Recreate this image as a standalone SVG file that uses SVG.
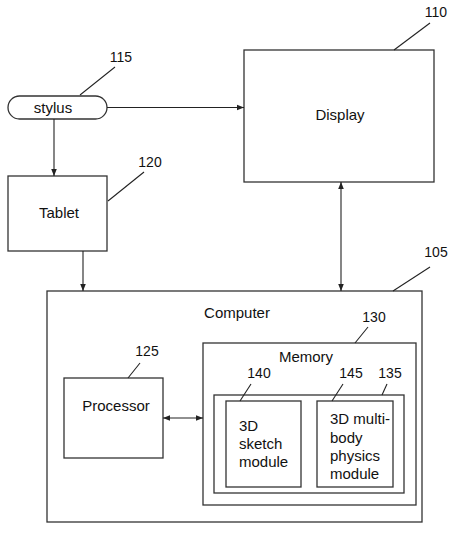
<svg xmlns="http://www.w3.org/2000/svg" width="474" height="540" viewBox="0 0 474 540">
<defs>
<marker id="ah" viewBox="0 0 10 10" refX="10" refY="5" markerWidth="7" markerHeight="7" orient="auto-start-reverse" markerUnits="userSpaceOnUse">
<path d="M0,1 L10,5 L0,9 Z" fill="#222"/>
</marker>
<style>
.box{fill:none;stroke:#333;stroke-width:1.3}
.t{font-family:"Liberation Sans",Arial,sans-serif;font-size:15px;fill:#111}
.n{font-family:"Liberation Sans",Arial,sans-serif;font-size:14px;fill:#111}
.ld{stroke:#222;stroke-width:1.1;fill:none}
.c{stroke:#222;stroke-width:1.1;fill:none}
</style>
</defs>
<rect width="474" height="540" fill="#fff"/>
<g id="display">
<rect class="box" x="244" y="50" width="190" height="132"/>
<text class="t" x="340" y="120" text-anchor="middle">Display</text>
<line class="ld" x1="394" y1="50" x2="430" y2="23"/>
<text class="n" x="436" y="17" text-anchor="middle">110</text>
</g>
<g id="stylus">
<rect class="box" x="8" y="96" width="99" height="23" rx="11.5"/>
<text class="t" x="53" y="113" text-anchor="middle">stylus</text>
<line class="ld" x1="80" y1="95" x2="115" y2="67"/>
<text class="n" x="121" y="62" text-anchor="middle">115</text>
</g>
<g id="tablet">
<rect class="box" x="8" y="176" width="99" height="75"/>
<text class="t" x="59" y="218" text-anchor="middle">Tablet</text>
<line class="ld" x1="108" y1="201" x2="144" y2="172"/>
<text class="n" x="150" y="167" text-anchor="middle">120</text>
</g>
<g id="computer">
<rect class="box" x="47" y="291" width="375" height="231"/>
<text class="t" x="237" y="318" text-anchor="middle">Computer</text>
<line class="ld" x1="393" y1="291" x2="430" y2="267"/>
<text class="n" x="436" y="257" text-anchor="middle">105</text>
</g>
<g id="processor">
<rect class="box" x="64" y="378" width="99" height="80"/>
<text class="t" x="116" y="411" text-anchor="middle">Processor</text>
<line class="ld" x1="128" y1="378" x2="140" y2="363"/>
<text class="n" x="147" y="356" text-anchor="middle">125</text>
</g>
<g id="memory">
<rect class="box" x="203" y="343" width="213" height="162"/>
<text class="t" x="306" y="362" text-anchor="middle">Memory</text>
<line class="ld" x1="355" y1="343" x2="368" y2="327"/>
<text class="n" x="374" y="322" text-anchor="middle">130</text>
</g>
<g id="modules">
<rect class="box" x="214" y="395" width="190" height="98"/>
<line class="ld" x1="382" y1="395" x2="387" y2="384"/>
<text class="n" x="390" y="378" text-anchor="middle">135</text>
</g>
<g id="sketch">
<rect class="box" x="226" y="401" width="75" height="86"/>
<text class="t" x="239" y="431">3D</text>
<text class="t" x="239" y="449">sketch</text>
<text class="t" x="239" y="467">module</text>
<line class="ld" x1="240" y1="401" x2="251" y2="384"/>
<text class="n" x="259" y="378" text-anchor="middle">140</text>
</g>
<g id="physics">
<rect class="box" x="317" y="401" width="76" height="86"/>
<text class="t" x="330" y="424">3D multi-</text>
<text class="t" x="330" y="443">body</text>
<text class="t" x="330" y="461">physics</text>
<text class="t" x="330" y="479">module</text>
<line class="ld" x1="332" y1="401" x2="343" y2="384"/>
<text class="n" x="351" y="378" text-anchor="middle">145</text>
</g>
<g id="connectors">
<line class="c" x1="107" y1="107.5" x2="244" y2="107.5" marker-end="url(#ah)"/>
<line class="c" x1="54" y1="119" x2="54" y2="176" marker-end="url(#ah)"/>
<line class="c" x1="83" y1="251" x2="83" y2="291" marker-end="url(#ah)"/>
<line class="c" x1="341" y1="182" x2="341" y2="291" marker-start="url(#ah)" marker-end="url(#ah)"/>
<line class="c" x1="163" y1="418" x2="203" y2="418" marker-start="url(#ah)" marker-end="url(#ah)"/>
</g>
</svg>
